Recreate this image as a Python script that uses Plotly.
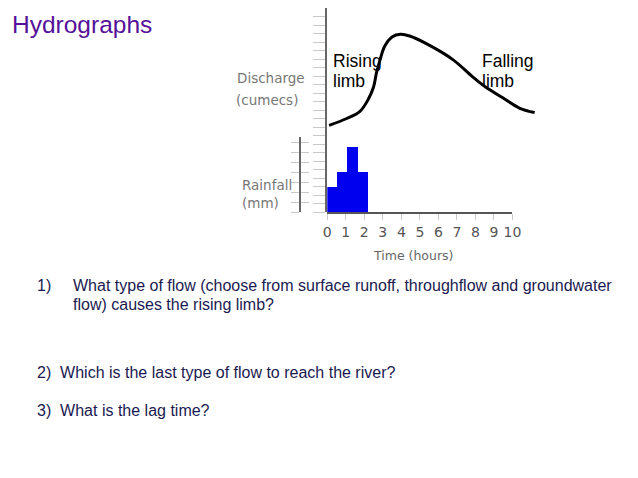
import plotly.graph_objects as go

W, H = 638, 478

# Data
rain_time = [0.275, 0.825, 1.375, 1.925]
rain_width = [0.55, 0.55, 0.55, 0.55]
rain_mm = [5, 8, 13, 8]

flow_time = [0.1, 1.05, 1.75, 2.2, 2.5, 2.65, 2.85, 3.1, 3.5, 3.95, 4.45, 5.35, 6.8, 7.85, 8.55, 9.5, 10.4, 11.2]
discharge = [10.2, 11.0, 11.8, 13.2, 14.7, 16.3, 17.9, 19.5, 20.6, 20.9, 20.7, 19.8, 17.9, 15.9, 14.7, 13.4, 12.2, 11.7]

hour_ticks = list(range(0, 11))
discharge_ticks = list(range(0, 24))
rain_scale_ticks = list(range(0, 15, 2))


def px(x):
    return x / W


def py(y):
    return 1 - y / H


X0 = 330
PPH = 18.9  # pixels per hour
X2_MAX = 11.6

fig = go.Figure()

fig.add_trace(go.Bar(x=rain_time, y=rain_mm, width=rain_width,
                     marker=dict(color="#0000ee", line=dict(width=0)),
                     xaxis="x", yaxis="y", showlegend=False))
fig.add_trace(go.Scatter(x=flow_time, y=discharge, mode="lines",
                         line=dict(color="black", width=3, shape="spline", smoothing=1.0),
                         xaxis="x2", yaxis="y2", showlegend=False))
# dummy traces for the rainfall scale axes
fig.add_trace(go.Scatter(x=[None], y=[None], xaxis="x", yaxis="y3", showlegend=False))
fig.add_trace(go.Scatter(x=[None], y=[None], xaxis="x", yaxis="y4", showlegend=False))

axis_gray = "#666666"
tick_gray = "#c8c8c8"

fig.update_layout(
    width=W, height=H,
    margin=dict(l=0, r=0, t=0, b=0),
    paper_bgcolor="white", plot_bgcolor="rgba(0,0,0,0)",
    bargap=0,
    xaxis=dict(domain=[px(X0), px(X0 + 10 * PPH)], range=[0, 10], anchor="y",
               showline=True, linecolor="#555555", linewidth=2, showgrid=False, zeroline=False,
               tickmode="array", tickvals=hour_ticks, ticks="outside", ticklen=6,
               tickcolor=tick_gray, tickwidth=1,
               tickfont=dict(family="DejaVu Sans", size=14, color="#555555")),
    yaxis=dict(domain=[py(212), py(137)], range=[0, 15], anchor="x",
               visible=False, showgrid=False, zeroline=False),
    xaxis2=dict(domain=[px(X0), px(X0 + X2_MAX * PPH)], range=[0, X2_MAX], anchor="y2",
                visible=False, showgrid=False, zeroline=False),
    yaxis2=dict(domain=[py(212), py(8)], range=[0, 24], anchor="x2",
                showline=True, linecolor=axis_gray, linewidth=2, showgrid=False, zeroline=False,
                tickmode="array", tickvals=discharge_ticks, ticks="outside", ticklen=12,
                tickcolor=tick_gray, tickwidth=1, showticklabels=False),
    yaxis3=dict(overlaying="y", anchor="free", position=px(302), side="left", range=[0, 15],
                showline=True, linecolor=axis_gray, linewidth=2, showgrid=False, zeroline=False,
                tickmode="array", tickvals=rain_scale_ticks, ticks="outside", ticklen=8,
                tickcolor=tick_gray, tickwidth=1, showticklabels=False),
    yaxis4=dict(overlaying="y", anchor="free", position=px(302), side="left", range=[0, 15],
                showline=False, showgrid=False, zeroline=False,
                tickmode="array", tickvals=rain_scale_ticks, ticks="inside", ticklen=8,
                tickcolor=tick_gray, tickwidth=1, showticklabels=False),
)

ann = []


def text(x, y, s, size, color, family="Liberation Sans, Arial", xanchor="left"):
    ann.append(dict(x=px(x), y=py(y), xref="paper", yref="paper", text=s, showarrow=False,
                    xanchor=xanchor, yanchor="middle", align="left",
                    font=dict(family=family, size=size, color=color)))


text(6, 24, "Hydrographs", 24.5, "#55119a")
gothic = "DejaVu Sans"
text(236, 78, "Discharge", 13.5, "#777777", gothic)
text(235, 100, "(cumecs)", 13.5, "#777777", gothic)
text(241, 185, "Rainfall", 13.5, "#777777", gothic)
text(241, 203, "(mm)", 13.5, "#777777", gothic)
text(418, 255, "Time (hours)", 12.5, "#666666", gothic, xanchor="center")

text(334, 61, "Rising", 17.5, "black")
text(334, 81, "limb", 17.5, "black")
text(486, 61, "Falling", 17.5, "black")
text(486, 81, "limb", 17.5, "black")

navy = "#1a1a50"
text(32, 285, "1)", 16, navy)
text(68, 285, "What type of flow (choose from surface runoff, throughflow and groundwater", 16, navy)
text(68, 304, "flow) causes the rising limb?", 16, navy)
text(32, 372, "2)  Which is the last type of flow to reach the river?", 16, navy)
text(32, 410, "3)  What is the lag time?", 16, navy)

fig.update_layout(annotations=ann)

fig.write_html("out.html", config={"displayModeBar": False},
               post_script="document.body.style.margin='0';document.body.style.overflow='hidden';")
